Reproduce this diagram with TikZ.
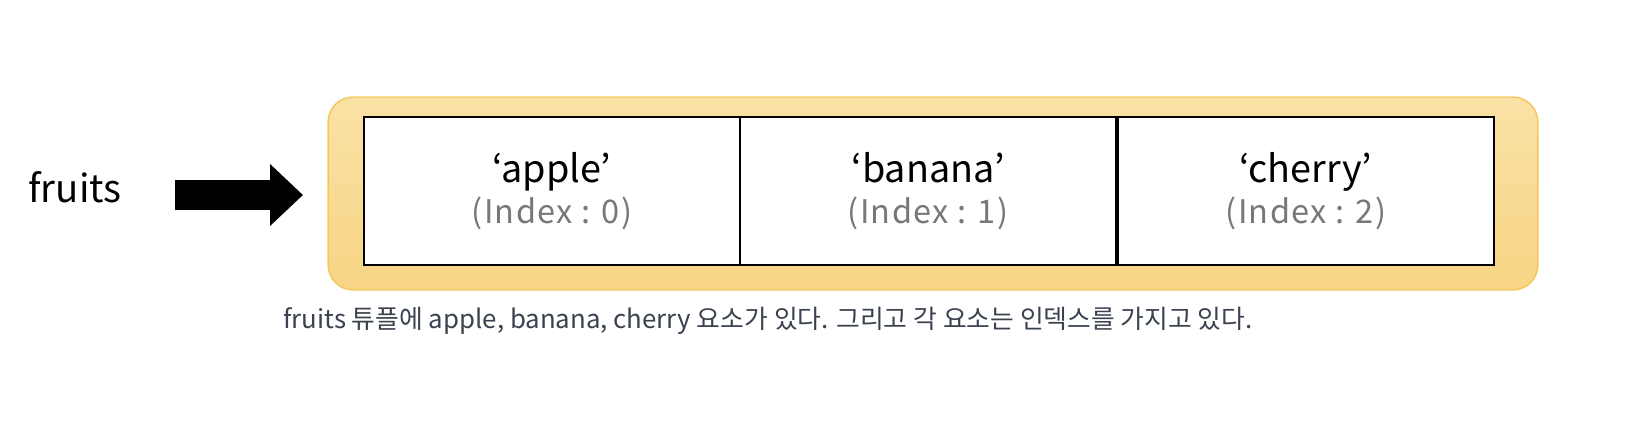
\documentclass[tikz,border=0pt]{standalone}
\usepackage{fontspec}
\setmainfont{Noto Sans CJK KR}
\newfontfamily\idxfont[LetterSpace=4]{Noto Sans CJK KR}
\usetikzlibrary{arrows.meta}
\definecolor{boxfillA}{RGB}{250,225,165}
\definecolor{boxfillB}{RGB}{248,213,133}
\definecolor{boxline}{RGB}{242,198,90}
\definecolor{idxgray}{RGB}{120,120,120}
\definecolor{captext}{RGB}{58,66,80}
\newcommand{\idxtext}[1]{{\idxfont\color{idxgray}\fontsize{18.5}{22}\selectfont #1}}
\tikzset{
  outerbox/.style={rounded corners=0.5cm, draw=boxline, line width=0.8pt,
    top color=boxfillA, bottom color=boxfillB, minimum width=24.2cm, minimum height=3.86cm, inner sep=0pt},
  cell/.style={draw=black, line width=1.6pt, fill=white, minimum width=7.52cm, minimum height=2.96cm,
    inner sep=0pt, align=center, font=\fontsize{21.5}{26}\selectfont},
  label/.style={font=\fontsize{21.8}{26}\selectfont, inner sep=0pt},
  bigarrow/.style={line width=0.6cm, line cap=butt, -{Triangle[length=0.66cm,width=1.2cm]}},
  caption/.style={text=captext, font=\fontsize{14.7}{18}\selectfont, inner sep=0pt, anchor=west}
}
\begin{document}
\begin{tikzpicture}[x=0.02cm,y=-0.02cm]
\useasboundingbox (0,0) rectangle (1636,426);
\node[label] (fruits) at (75,187) {fruits};
\node[outerbox] (box) at (933,193.5) {};
\node[cell] (c1) at (552,191) {‘apple’\\[-3pt]\idxtext{(Index : 0)}};
\node[cell] (c2) at (928,191) {‘banana’\\[-3pt]\idxtext{(Index : 1)}};
\node[cell] (c3) at (1306,191) {‘cherry’\\[-3pt]\idxtext{(Index : 2)}};
\coordinate (as) at (175,195);
\coordinate (ae) at (303,195);
\draw[bigarrow] (as) -- (ae);
\node[caption] (cap) at (283,321) {fruits 튜플에 apple, banana, cherry 요소가 있다. 그리고 각 요소는 인덱스를 가지고 있다.};
\end{tikzpicture}
\end{document}
